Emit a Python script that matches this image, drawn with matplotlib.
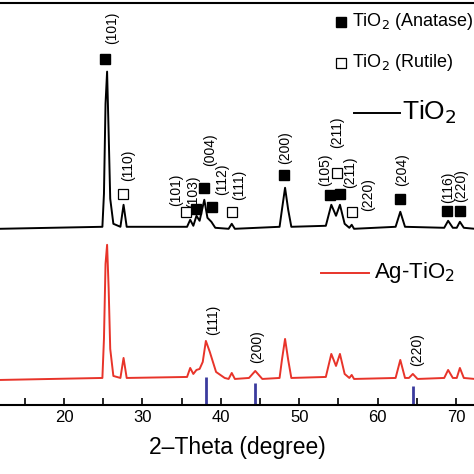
import matplotlib
matplotlib.use("Agg")
import matplotlib.pyplot as plt

plt.rcParams['font.family'] = ['Liberation Sans', 'DejaVu Sans']

# Pure TiO2 pattern (2theta, intensity a.u.)
tio2_x = [11.8, 24.9, 25.1, 25.3, 25.5, 25.7, 25.9, 26.3, 27.2, 27.6, 28.0, 35.7, 36.1, 36.5, 36.9, 37.3, 37.9, 38.3, 38.8, 39.3,
          41.0, 41.4, 41.8, 47.5, 47.8, 48.2, 48.6, 49.0, 53.4, 54.1, 54.7, 55.2, 55.8, 56.4, 56.7, 57.0, 62.3, 62.9, 63.5,
          68.5, 69.0, 69.6, 70.1, 70.5, 71.0, 72.4]
tio2_y = [245, 247, 280, 370, 402, 340, 275, 250, 247, 269, 247, 247, 254, 248, 258, 253, 274, 256, 252, 246,
          245, 250, 245, 247, 264, 286, 264, 247, 248, 269, 258, 269, 250, 246, 249, 245, 247, 262, 247,
          246, 253, 246, 246, 252, 246, 245]

# Ag-TiO2 pattern
ag_x = [11.8, 24.9, 25.1, 25.3, 25.5, 25.7, 25.9, 26.3, 27.2, 27.6, 28.0, 35.7, 36.1, 36.5, 36.9, 37.3, 37.7, 38.1, 38.6, 39.4, 40.5,
        41.0, 41.4, 41.8, 43.6, 44.4, 45.3, 47.5, 47.8, 48.2, 48.6, 49.0, 53.4, 54.1, 54.7, 55.2, 55.8, 56.4, 56.7, 57.0,
        62.3, 62.9, 63.5, 64.0, 64.5, 65.1, 68.5, 69.0, 69.6, 70.1, 70.5, 71.0, 72.4]
ag_y = [94, 96, 135, 210, 229, 185, 125, 98, 96, 116, 96, 97, 106, 100, 104, 105, 112, 133, 122, 102, 96,
        95, 101, 95, 96, 103, 95, 96, 114, 135, 114, 96, 97, 120, 108, 120, 100, 96, 99, 95,
        96, 114, 96, 96, 100, 95, 96, 104, 96, 96, 106, 96, 95]

# Ag reference sticks
ag_ref_x = [38.1, 44.4, 64.5]
ag_ref_y = [97, 91, 88]
ref_base = 69

# Anatase / rutile markers
anatase_mx = [25.2, 36.8, 37.9, 38.9, 48.1, 53.9, 55.2, 62.9, 68.9, 70.5]
anatase_my = [415, 265, 286, 267, 299, 279, 280, 275, 263, 263]
rutile_mx = [27.5, 35.6, 41.4, 54.8, 56.7]
rutile_my = [280, 262, 262, 301, 262]

tio2_labels = ["(101)", "(110)", "(101)", "(103)", "(004)", "(112)", "(111)", "(200)", "(105)", "(211)", "(211)", "(220)", "(204)", "(116)", "(220)"]
tio2_lx = [26.1, 28.2, 34.3, 36.5, 38.6, 40.2, 42.4, 48.2, 53.3, 54.8, 56.5, 58.8, 63.1, 69.0, 70.6]
tio2_ly = [446, 308, 284, 282, 324, 294, 289, 326, 304, 341, 301, 279, 304, 286, 288]

ag_labels = ["(111)", "(200)", "(220)"]
ag_lx = [39.0, 44.6, 65.0]
ag_ly = [154, 127, 124]

fig = plt.figure(figsize=(4.74, 4.74), dpi=100)
ax = fig.add_axes([0, 0.1456, 1, 0.849])
ax.set_xlim(11.84, 72.3)
ax.set_ylim(69, 471)

ax.plot(tio2_x, tio2_y, color='black', lw=1.4)
ax.plot(ag_x, ag_y, color='#e8342a', lw=1.4)
ax.vlines(ag_ref_x, ref_base, ag_ref_y, color='#3b3b9e', lw=2)
ax.plot(anatase_mx, anatase_my, 's', color='black', ms=7, ls='none')
ax.plot(rutile_mx, rutile_my, 's', mfc='white', mec='black', mew=0.9, ms=7, ls='none')

for t, x, y in zip(tio2_labels, tio2_lx, tio2_ly):
    ax.text(x, y, t, rotation=90, ha='center', va='center', fontsize=10)
for t, x, y in zip(ag_labels, ag_lx, ag_ly):
    ax.text(x, y, t, rotation=90, ha='center', va='center', fontsize=10)

ax.plot([55.3], [452], 's', color='black', ms=7)
ax.text(56.8, 452, "TiO$_2$ (Anatase)", va='center', fontsize=13)
ax.plot([55.3], [411], 's', mfc='white', mec='black', mew=0.9, ms=7)
ax.text(56.8, 411, "TiO$_2$ (Rutile)", va='center', fontsize=13)
ax.plot([57.0, 62.8], [361, 361], color='black', lw=1.4)
ax.text(63.1, 361, "TiO$_2$", va='center', fontsize=19)
ax.plot([52.8, 58.9], [201, 201], color='#e8342a', lw=1.4)
ax.text(59.5, 201, "Ag-TiO$_2$", va='center', fontsize=16)

ax.set_yticks([])
ax.set_xticks([20, 30, 40, 50, 60, 70])
ax.set_xticks([15, 25, 35, 45, 55, 65], minor=True)
ax.tick_params(axis='x', which='both', direction='in', length=5, width=1.2, labelsize=12, top=False)
ax.spines['left'].set_visible(False)
ax.spines['right'].set_visible(False)
ax.spines['top'].set_linewidth(1.5)
ax.spines['bottom'].set_linewidth(1.5)
ax.set_xlabel("2\u2013Theta (degree)", fontsize=16.5, labelpad=8)

fig.savefig("out.png", dpi=100)
